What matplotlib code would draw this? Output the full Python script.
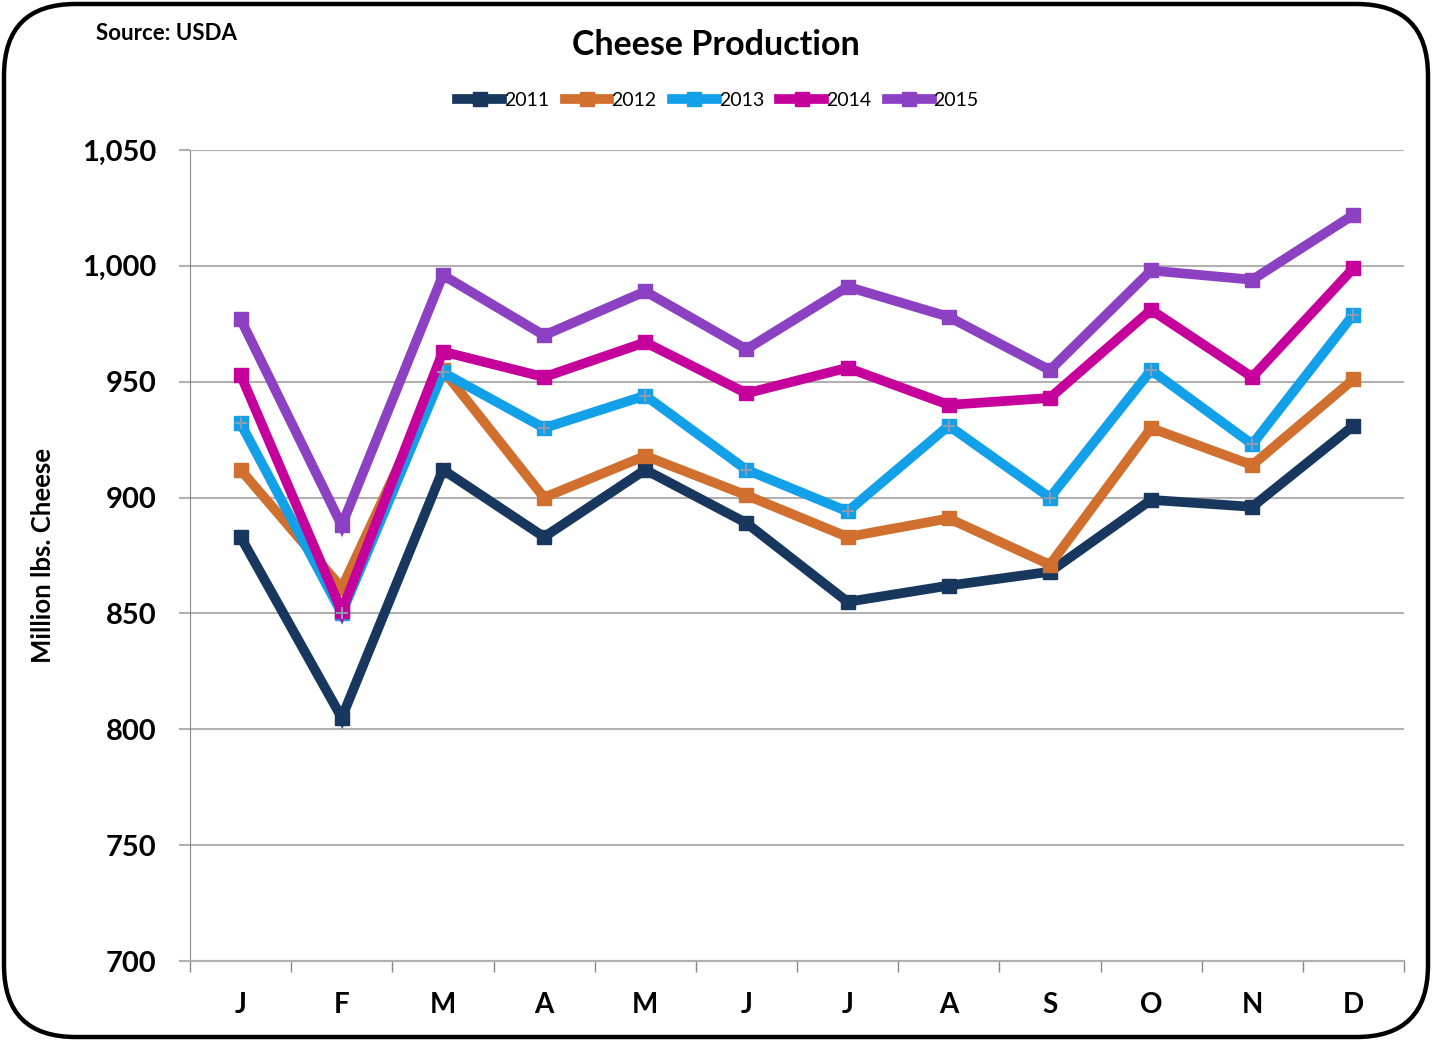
import numpy as np
import matplotlib.pyplot as plt
from matplotlib.patches import FancyBboxPatch

# Monthly cheese production (million lbs)
months = ['J', 'F', 'M', 'A', 'M', 'J', 'J', 'A', 'S', 'O', 'N', 'D']
prod_2011 = [883, 805, 912, 883, 912, 889, 855, 862, 868, 899, 896, 931]
prod_2012 = [912, 861, 955, 900, 918, 901, 883, 891, 871, 930, 914, 951]
prod_2013 = [932, 850, 954, 930, 944, 912, 894, 931, 900, 955, 923, 979]
prod_2014 = [953, 851, 963, 952, 967, 945, 956, 940, 943, 981, 952, 999]
prod_2015 = [977, 888, 996, 970, 989, 964, 991, 978, 955, 998, 994, 1022]
years = ['2011', '2012', '2013', '2014', '2015']
colors = ['#17375E', '#D06F2E', '#12A0E8', '#C6009A', '#8B41C2']

plt.rcParams['font.family'] = ['Lato', 'DejaVu Sans']

fig = plt.figure(figsize=(14.32, 10.41), dpi=100)
ax = fig.add_axes([190 / 1432, 1 - 961 / 1041, (1404 - 190) / 1432, (961 - 150) / 1041])

x = np.arange(len(months))
series = [prod_2011, prod_2012, prod_2013, prod_2014, prod_2015]
handles = []
for yr, vals, c in zip(years, series, colors):
    h, = ax.plot(x, vals, '-', color=c, lw=7, marker='s', ms=10.5,
                 markeredgecolor=c, label=yr, solid_joinstyle='miter', zorder=3)
    if yr == '2013':
        ax.plot(x, vals, '+', color='#8A9BB5', ms=9, mew=1.5, zorder=4)
    handles.append(h)

ax.set_xlim(-0.5, 11.5)
ax.set_ylim(700, 1050)
ax.set_yticks(np.arange(700, 1051, 50))
ax.set_yticklabels([f'{v:,}' for v in range(700, 1051, 50)],
                   fontsize=21, fontweight='bold')
ax.set_xticks(x)
ax.set_xticklabels(months, fontsize=20, fontweight='bold')
ax.set_xticks(np.arange(-0.5, 12, 1), minor=True)
ax.tick_params(axis='x', which='major', length=0, pad=22)
ax.tick_params(axis='x', which='minor', length=8, color='#888888', width=1)
ax.tick_params(axis='y', length=8, color='#B0B0B0', width=1.5, pad=16)
ax.grid(axis='y', color='#B0B0B0', lw=1.5, zorder=0)
for s in ['top', 'right']:
    ax.spines[s].set_visible(False)
ax.spines['left'].set_color('#888888')
ax.spines['bottom'].set_color('#B0B0B0')
ax.spines['bottom'].set_linewidth(1.5)

ax.set_ylabel('Million lbs. Cheese', fontsize=18.5, fontweight='bold', labelpad=20)

fig.text(0.5, 1 - 45 / 1041, 'Cheese Production', ha='center', va='center',
         fontsize=24.5, fontweight='bold')
fig.text(96 / 1432, 1 - 33 / 1041, 'Source: USDA', ha='left', va='center',
         fontsize=16, fontweight='bold')

leg = fig.legend(handles=handles, loc='center', bbox_to_anchor=(718 / 1432, 1 - 100 / 1041),
                 ncol=5, frameon=False, fontsize=14, handlelength=2.3,
                 handletextpad=0.1, columnspacing=0.8, markerscale=0.9)

frame = FancyBboxPatch((4 / 1432, 4 / 1041), 1424 / 1432, 1033 / 1041,
                       boxstyle='round,pad=0,rounding_size=0.05',
                       transform=fig.transFigure, fill=False, lw=3.2,
                       edgecolor='black', mutation_aspect=1432 / 1041)
fig.patches.append(frame)

fig.savefig('out.png', dpi=100)
